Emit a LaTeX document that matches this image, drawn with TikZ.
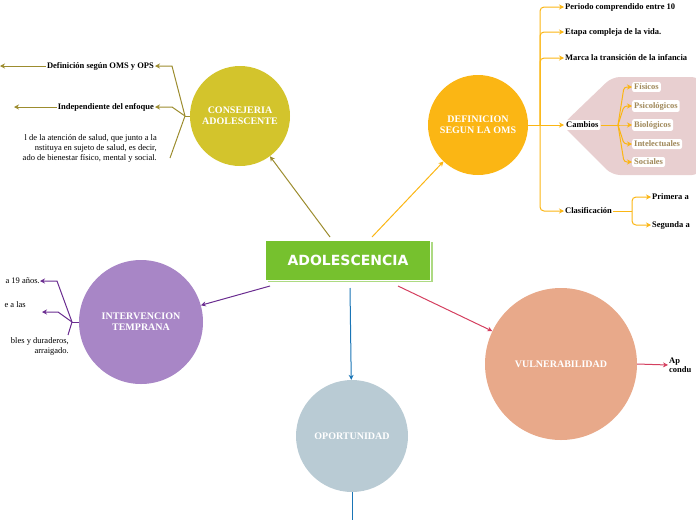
\documentclass[tikz,border=0pt]{standalone}
\usepackage{fontspec}
\setmainfont{Liberation Serif}
\newfontfamily\sansb{DejaVu Sans}
\usetikzlibrary{arrows.meta}
\definecolor{cg}{HTML}{76C12E}
\definecolor{cons}{HTML}{D3C42C}
\definecolor{consl}{HTML}{9C8C2E}
\definecolor{defi}{HTML}{FBB614}
\definecolor{inter}{HTML}{A886C6}
\definecolor{interl}{HTML}{6A2C90}
\definecolor{opor}{HTML}{B9CBD4}
\definecolor{oporl}{HTML}{1A75B6}
\definecolor{vul}{HTML}{E8A98A}
\definecolor{vull}{HTML}{D43F5F}
\definecolor{pinkbg}{HTML}{E8CFD0}
\definecolor{tan}{HTML}{A0895A}
\tikzset{x=1pt,y=-1pt,
 circ/.style={circle,draw=none,text=white,font=\bfseries\fontsize{10}{11}\selectfont,align=center,inner sep=0pt},
 lbl/.style={font=\bfseries\fontsize{8.5}{9.5}\selectfont,inner sep=1pt},
 ptxt/.style={font=\fontsize{8.5}{10}\selectfont,inner sep=0pt,align=left},
 arr/.style={-{Stealth[length=5pt,width=5pt]},line width=1pt},
 ln/.style={line width=1pt},
 sub/.style={fill=white,rounded corners=2pt,text=tan,font=\bfseries\fontsize{8.5}{9.5}\selectfont,inner sep=2pt}}
\begin{document}
\begin{tikzpicture}
\useasboundingbox (0,0) rectangle (696,520);
\clip (0,0) rectangle (696,520);
% central
\node[fill=cg!60!white,minimum width=165pt,minimum height=40pt] at (350,262) {};
\node (c) [fill=cg,draw=white,line width=1pt,minimum width=165pt,minimum height=40pt,text=white,font=\sansb\bfseries\fontsize{14}{16}\selectfont] at (348,260) {ADOLESCENCIA};
% circles
\node (cs) [circ,fill=cons,minimum size=100pt] at (240,116) {CONSEJERIA\\ADOLESCENTE};
\node (df) [circ,fill=defi,minimum size=100pt] at (478,125) {DEFINICION\\SEGUN LA OMS};
\node (it) [circ,fill=inter,minimum size=124pt] at (141,322) {INTERVENCION\\TEMPRANA};
\node (op) [circ,fill=opor,minimum size=112pt] at (352,436) {OPORTUNIDAD};
\node (vu) [circ,fill=vul,minimum size=152pt] at (561,364) {VULNERABILIDAD};
% main connectors
\draw[arr,consl] (330,237) -- (cs);
\draw[arr,defi] (372,237) -- (df);
\draw[arr,interl] (270,286) -- (it);
\draw[arr,oporl] (350,288) -- (op);
\draw[arr,vull] (398,286) -- (vu);
\coordinate (obot) at (352,520);
\draw[ln,oporl] (op.south) -- (obot);
% vulnerabilidad
\node (vt) [lbl,anchor=west,align=left] at (668,365) {Ap\\condu};
\draw[arr,vull] (vu.east) -- (vt.west);
% consejeria
\coordinate (cf) at (185,116);
\draw[ln,consl] (cs.west) -- (cf);
\node (c1) [lbl,anchor=east] at (155,66) {Definición según OMS y OPS};
\node (c2) [lbl,anchor=east] at (155,107) {Independiente del enfoque};
\node (c3) [ptxt,anchor=north east,align=right] at (157,134) {l de la atención de salud, que junto a la\\nstituya en sujeto de salud, es decir,\\ado de bienestar físico, mental y social.};
\draw[arr,consl] (cf) -- (172,66) -- (c1.east);
\draw[arr,consl] (cf) -- (172,107) -- (c2.east);
\draw[ln,consl] (cf) -- (170,158);
\coordinate (e1) at (0,66); \coordinate (e2) at (14,107);
\draw[arr,consl] (c1.west) -- (e1);
\draw[arr,consl] (c2.west) -- (e2);
% definicion
\fill[pinkbg,rounded corners=8pt] (562,125) -- (612,77) -- (700,77) -- (700,175) -- (612,175) -- cycle;
\coordinate (dv) at (540,125);
\draw[ln,defi] (df.east) -- (dv);
\node (d1) [lbl,anchor=west] at (564,7) {Periodo comprendido entre 10};
\node (d2) [lbl,anchor=west] at (564,32) {Etapa compleja de la vida.};
\node (d3) [lbl,anchor=west] at (564,58) {Marca la transición de la infancia};
\node (d4) [lbl,anchor=west,fill=white,rounded corners=2pt,inner sep=2pt] at (564,125) {Cambios};
\node (d5) [lbl,anchor=west] at (564,211) {Clasificación};
\foreach \n/\y in {d1/7,d2/32,d3/58} \draw[arr,defi,rounded corners=4pt] (dv) -- (540,\y) -- (\n.west);
\draw[arr,defi] (dv) -- (d4.west);
\draw[arr,defi,rounded corners=4pt] (dv) -- (540,211) -- (d5.west);
\coordinate (cf2) at (618,125);
\draw[ln,defi] (d4.east) -- (cf2);
\foreach \n/\t/\y in {s1/Físicos/87,s2/Psicológicos/106,s3/Biológicos/125,s4/Intelectuales/144,s5/Sociales/162}{
 \node (\n) [sub,anchor=west] at (632,\y) {\t};
 \draw[arr,defi,rounded corners=3pt] (cf2) -- (624,\y) -- (\n.west);}
\node (k1) [lbl,anchor=west] at (651,197) {Primera a};
\node (k2) [lbl,anchor=west] at (651,225) {Segunda a};
\coordinate (kf) at (632,211);
\draw[ln,defi] (d5.east) -- (kf);
\draw[arr,defi,rounded corners=4pt] (kf) -- (632,197) -- (k1.west);
\draw[arr,defi,rounded corners=4pt] (kf) -- (632,225) -- (k2.west);
% intervencion
\coordinate (if) at (72,322);
\draw[ln,interl] (it.west) -- (if);
\node (i1) [ptxt,anchor=east] at (40,281) {a 19 años.};
\node (i2) [ptxt,anchor=east] at (26,305) {e a las};
\node (i3) [ptxt,anchor=north east,align=right] at (69,337) {bles y duraderos,\\arraigado.};
\draw[arr,interl] (if) -- (57,281) -- (i1.east);
\draw[arr,interl] (if) -- (58,312) -- (42,312);
\draw[ln,interl] (if) -- (68,335);
\end{tikzpicture}
\end{document}
